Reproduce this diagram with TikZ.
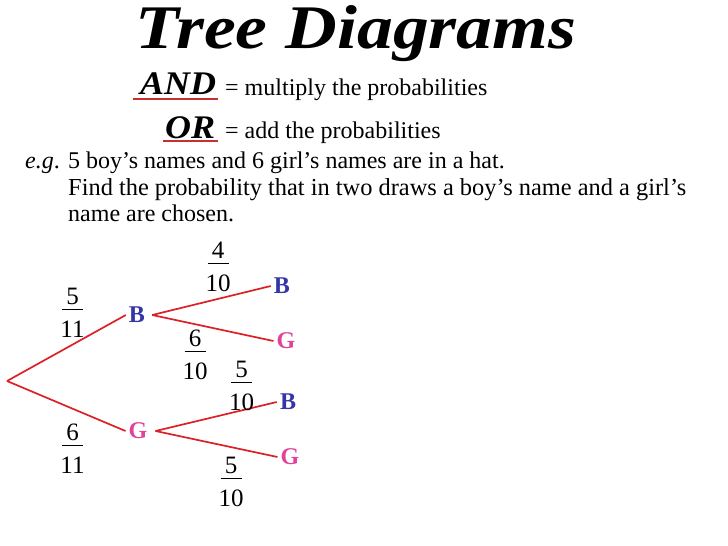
\documentclass[tikz,border=0pt]{standalone}
\usepackage{fontspec}
\setmainfont{Liberation Serif}
\definecolor{treered}{HTML}{DD2026}
\definecolor{ulred}{HTML}{C8302E}
\definecolor{bblue}{HTML}{3535A8}
\definecolor{gpink}{HTML}{E0449A}
\tikzset{
  txt/.style={anchor=base west, inner sep=0pt},
  body/.style={txt, font=\fontsize{24}{28}\selectfont},
  branch/.style={treered, line width=1.7pt},
  uline/.style={ulred, line width=1.6pt},
  bleaf/.style={font=\fontsize{24}{28}\selectfont\bfseries, text=bblue, inner xsep=3pt, inner ysep=1pt},
  gleaf/.style={font=\fontsize{24}{28}\selectfont\bfseries, text=gpink, inner xsep=3pt, inner ysep=1pt},
  fracnum/.style={anchor=base, inner sep=0pt, font=\fontsize{25}{28}\selectfont},
  fracbar/.style={black, line width=1pt}
}
\newcommand{\myfrac}[5]{%
  \coordinate (#1-l) at ({#2-10.5},#3);
  \coordinate (#1-r) at ({#2+10.5},#3);
  \draw[fracbar] (#1-l) -- (#1-r);
  \node[fracnum] (#1-n) at (#2,{#3-5}) {#4};
  \node[fracnum] (#1-d) at (#2,{#3+28}) {#5};
}
\begin{document}
\begin{tikzpicture}[x=1pt,y=-1pt]
\useasboundingbox (0,0) rectangle (728,546);
% title
\node[txt, xscale=1.155, text height=0.66em, font=\fontsize{62}{70}\selectfont\bfseries\itshape] (title) at (135,48) {Tree Diagrams};
% AND / OR
\node[txt, xscale=1.09, font=\fontsize{33}{36}\selectfont\bfseries\itshape] (and) at (140,94) {AND};
\node[body] (andtxt) at (225,95) {= multiply the probabilities};
\node[txt, xscale=1.09, font=\fontsize{33}{36}\selectfont\bfseries\itshape] (or) at (165,138) {OR};
\node[body] (ortxt) at (225,138) {= add the probabilities};
\coordinate (u1a) at (133,99); \coordinate (u1b) at (218,99);
\coordinate (u2a) at (163,141); \coordinate (u2b) at (218,141);
\draw[uline] (u1a) -- (u1b);
\draw[uline] (u2a) -- (u2b);
% question
\node[body] (eg) at (25,168) {\textit{e.g}.};
\node[body] (q1) at (68,168) {5 boy’s names and 6 girl’s names are in a hat.};
\node[body, font=\fontsize{24.4}{28}\selectfont] (q2) at (68,195) {Find the probability that in two draws a boy’s name and a girl’s};
\node[body] (q3) at (68,221) {name are chosen.};
% tree
\coordinate (root) at (7,381);
\node[bleaf] (B1) at (137,315) {B};
\node[gleaf] (G1) at (138,431) {G};
\node[bleaf] (BB) at (282,286) {B};
\node[gleaf] (BG) at (286,341) {G};
\node[bleaf] (GB) at (288,402) {B};
\node[gleaf] (GG) at (290,457) {G};
\draw[branch] (root) -- (B1.west);
\draw[branch] (root) -- (G1.west);
\draw[branch] ([xshift=4pt]B1.east) -- (BB.west);
\draw[branch] ([xshift=4pt]B1.east) -- (BG.west);
\draw[branch] ([xshift=5pt]G1.east) -- (GB.west);
\draw[branch] ([xshift=5pt]G1.east) -- (GG.west);
% fractions
\myfrac{f1}{72.5}{309}{5}{11}
\myfrac{f2}{72.5}{445}{6}{11}
\myfrac{f3}{218}{263}{4}{10}
\myfrac{f4}{195}{351}{6}{10}
\myfrac{f5}{241.5}{382}{5}{10}
\myfrac{f6}{231}{478}{5}{10}
\end{tikzpicture}
\end{document}
